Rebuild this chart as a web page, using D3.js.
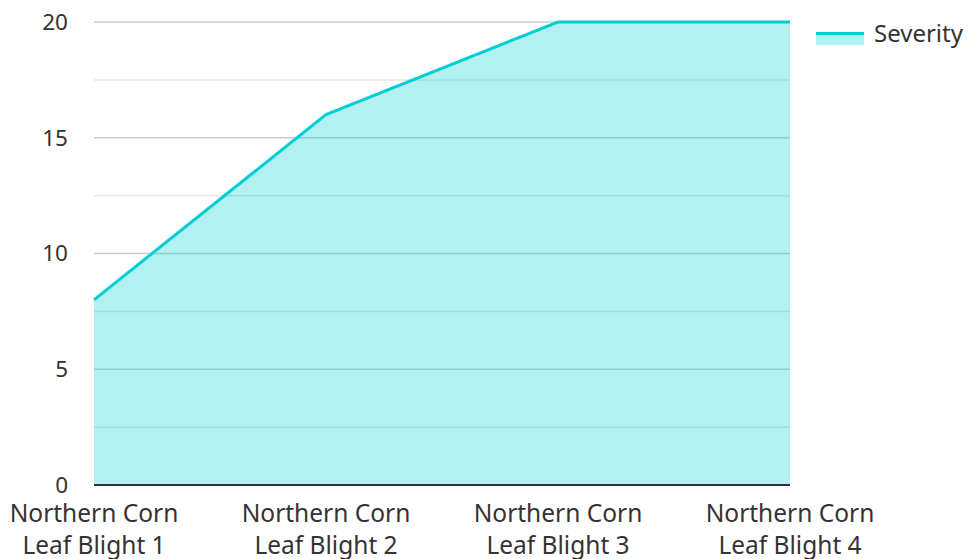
<!DOCTYPE html>
<html>
<head>
<meta charset="utf-8">
<script src="https://cdn.jsdelivr.net/npm/d3@7"></script>
<style>
  body { margin: 0; background: #fff; }
  svg text { font-family: "Noto Sans", sans-serif; fill: #333; }
</style>
</head>
<body>
<div id="chart"></div>
<script>
// data
const categories = ["Northern Corn Leaf Blight 1", "Northern Corn Leaf Blight 2", "Northern Corn Leaf Blight 3", "Northern Corn Leaf Blight 4"];
const severity = [8, 16, 20, 20];
const yTicks = [0, 5, 10, 15, 20];
const yMinor = [2.5, 7.5, 12.5, 17.5];
const seriesName = "Severity";

const W = 968, H = 559;
const margin = { top: 22, right: 178, bottom: 74, left: 94 };
const width = W - margin.left - margin.right;
const height = H - margin.top - margin.bottom;
const color = "#00ced1";

const svg = d3.select("#chart").append("svg")
    .attr("width", W)
    .attr("height", H)
  .append("g")
    .attr("transform", `translate(${margin.left},${margin.top})`);

const x = d3.scalePoint()
    .domain(categories)
    .range([0, width]);

const y = d3.scaleLinear()
    .domain([0, 20])
    .range([height, 0]);

// gridlines (minor first, then major)
svg.append("g")
    .selectAll("line")
    .data(yMinor)
    .join("line")
    .attr("x1", 0).attr("x2", width)
    .attr("y1", d => y(d)).attr("y2", d => y(d))
    .attr("stroke", "#e6e6e6")
    .attr("stroke-width", 1.5);

svg.append("g")
    .selectAll("line")
    .data(yTicks.filter(d => d > 0))
    .join("line")
    .attr("x1", 0).attr("x2", width)
    .attr("y1", d => y(d)).attr("y2", d => y(d))
    .attr("stroke", "#cccccc")
    .attr("stroke-width", 1.5);

const pts = categories.map((c, i) => ({ c, v: severity[i] }));

// area
svg.append("path")
    .datum(pts)
    .attr("fill", color)
    .attr("fill-opacity", 0.3)
    .attr("d", d3.area()
        .x(d => x(d.c))
        .y0(y(0))
        .y1(d => y(d.v)));

// line
svg.append("path")
    .datum(pts)
    .attr("fill", "none")
    .attr("stroke", color)
    .attr("stroke-width", 3)
    .attr("d", d3.line()
        .x(d => x(d.c))
        .y(d => y(d.v)));

// x axis line
svg.append("line")
    .attr("x1", 0).attr("x2", width)
    .attr("y1", height).attr("y2", height)
    .attr("stroke", "#333")
    .attr("stroke-width", 2);

// y tick labels
svg.append("g")
    .selectAll("text")
    .data(yTicks)
    .join("text")
    .attr("x", -26)
    .attr("y", d => y(d))
    .attr("dy", "0.35em")
    .attr("text-anchor", "end")
    .attr("font-size", 22.5)
    .text(d => d);

// x tick labels, two lines
const xl = svg.append("g")
    .selectAll("text")
    .data(categories)
    .join("text")
    .attr("text-anchor", "middle")
    .attr("font-size", 24.5)
    .attr("transform", d => `translate(${x(d)},${height + 37})`);
xl.append("tspan").attr("x", 0).attr("y", 0)
    .text(d => d.split(" ").slice(0, 2).join(" "));
xl.append("tspan").attr("x", 0).attr("y", 32)
    .text(d => d.split(" ").slice(2).join(" "));

// legend
const lg = svg.append("g")
    .attr("transform", `translate(${width + 26},${10})`);
lg.append("rect")
    .attr("x", 0).attr("y", 0)
    .attr("width", 48).attr("height", 13)
    .attr("fill", color).attr("fill-opacity", 0.3);
lg.append("line")
    .attr("x1", 0).attr("x2", 48)
    .attr("y1", 1.5).attr("y2", 1.5)
    .attr("stroke", color).attr("stroke-width", 3);
lg.append("text")
    .attr("x", 58)
    .attr("y", 2)
    .attr("dy", "0.35em")
    .attr("font-size", 24)
    .text(seriesName);
</script>
</body>
</html>
